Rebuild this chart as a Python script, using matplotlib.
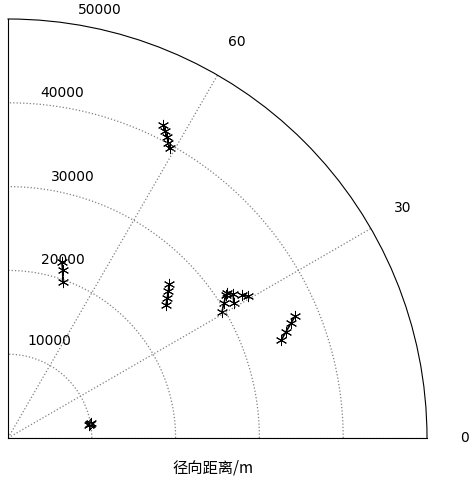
import numpy as np
import matplotlib
matplotlib.use("Agg")
import matplotlib.pyplot as plt

plt.rcParams['font.family'] = ['Noto Sans CJK SC', 'DejaVu Sans']

# clusters: (theta deg, r)
clusters = [
    ([63.6, 62.9, 62.2, 61.5, 60.8], [41650, 41150, 40650, 40100, 39630]),
    ([73.0, 72.0, 70.6], [21960, 21100, 19720]),
    ([43.7, 42.5, 41.3, 40.1], [26600, 25950, 25300, 24650]),
    ([30.5, 32.0, 33.3, 33.5, 32.6, 30.9], [29630, 30400, 31110, 31340, 31880, 31410]),
    ([31.4, 30.6], [32720, 33270]),
    ([19.7, 20.9, 22.1, 23.0], [34620, 35500, 36450, 37220]),
    ([9.2, 9.7, 10.2, 9.9], [9800, 9930, 10050, 9880]),
]

fig = plt.figure(figsize=(4.74, 4.86), dpi=100)
ax = fig.add_axes([8/474, 48/486, 419/474, 419/486], projection='polar')
ax.set_thetamin(0)
ax.set_thetamax(90)
ax.set_rlim(0, 50000)

for th, r in clusters:
    ax.plot(np.radians(th), r, color='black', marker=(6, 2, 0), markersize=8,
            markeredgewidth=0.7, linewidth=1.2)

ax.set_xticks([])
ax.set_yticks([])
ax.grid(False)
t = np.linspace(0, np.pi/2, 200)
for rr in [10000, 20000, 30000, 40000]:
    ax.plot(t, np.full_like(t, rr), color='gray', linestyle=':', linewidth=0.9)
for a in [30, 60]:
    ax.plot([np.radians(a)] * 2, [0, 50000], color='gray', linestyle=':', linewidth=0.9)
ax.spines['polar'].set_linewidth(0.8)
ax.spines['start'].set_visible(False)
ax.spines['end'].set_linewidth(0.8)
ax.spines['inner'].set_visible(False)
ax.plot([0, 0], [0, 50000], color='gray', linestyle=':', linewidth=0.9)

labels = [("50000", 77.9, 52250), ("40000", 81.1, 41680), ("30000", 76.0, 32100),
          ("20000", 73.0, 22200), ("10000", 67.0, 12570),
          ("60", 60.0, 54500), ("30", 30.2, 54500), ("0", 0.0, 54500)]
for s, th, r in labels:
    ax.text(np.radians(th), r, s, fontsize=10, ha='center', va='center', family='DejaVu Sans')

fig.text(213/474, 1 - 468/486, '径向距离/m', fontsize=11, ha='center', va='center')
fig.savefig('out.png', dpi=100)
